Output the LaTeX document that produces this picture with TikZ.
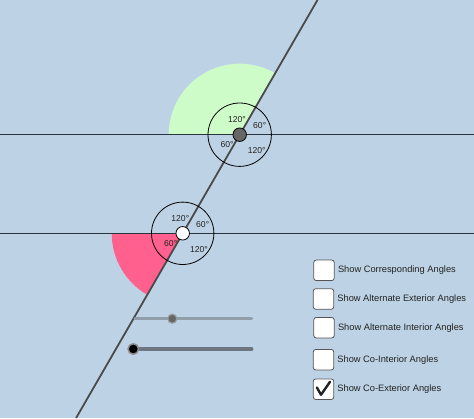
\documentclass[tikz,border=0pt]{standalone}
\usepackage{fontspec}
\setmainfont{Liberation Sans}
\definecolor{bg}{RGB}{189,211,229}
\definecolor{sectgreen}{RGB}{206,252,200}
\definecolor{sectpink}{RGB}{255,96,142}
\definecolor{transv}{RGB}{74,74,74}
\definecolor{hline}{RGB}{40,52,62}
\definecolor{txt}{RGB}{34,34,34}
\definecolor{sliderA}{RGB}{145,157,168}
\definecolor{sliderB}{RGB}{108,118,128}
\definecolor{boxline}{RGB}{85,85,85}
\begin{document}
\begin{tikzpicture}[x=1pt,y=1pt,
  anglab/.style={font=\fontsize{8.6}{9}\selectfont, text=txt, inner sep=0pt},
  cbox/.style={draw=boxline, fill=white, line width=0.8pt, rounded corners=2.5pt, minimum size=20.5pt, inner sep=0pt},
  cboxlabel/.style={anchor=west, font=\fontsize{9.3}{10}\selectfont, text=txt, inner sep=0pt},
  ptdark/.style={circle, draw=black, fill=black!60, line width=0.8pt, minimum size=13.5pt, inner sep=0pt},
  ptlight/.style={circle, draw=black, fill=white, line width=0.8pt, minimum size=13.5pt, inner sep=0pt},
  knobA/.style={circle, draw=black!40, fill=black!60, line width=1.2pt, minimum size=9pt, inner sep=0pt},
  knobB/.style={circle, draw=black!45, fill=black, line width=1.5pt, minimum size=10.5pt, inner sep=0pt}]
\fill[bg] (0,0) rectangle (474,418);
\useasboundingbox (0,0) rectangle (474,418);
\coordinate (T) at (239.7,283.3);
\coordinate (B) at (182.7,184.7);
\coordinate (tt) at (317.5,418);
\coordinate (tb) at (76.1,0);
\coordinate (h1l) at (0,283.3);
\coordinate (h1r) at (474,283.3);
\coordinate (h2l) at (0,184.7);
\coordinate (h2r) at (474,184.7);
% sectors
\fill[sectgreen] (T) -- ++(60:71) arc[start angle=60,end angle=180,radius=71] -- cycle;
\fill[sectpink] (B) -- ++(180:71) arc[start angle=180,end angle=240,radius=71] -- cycle;
% lines
\draw[hline, line width=0.9pt] (h1l) -- (h1r);
\draw[hline, line width=0.9pt] (h2l) -- (h2r);
\draw[transv, line width=1.8pt] (tb) -- (tt);
% circles
\draw[black, line width=0.8pt] (T) circle[radius=31.7];
\draw[black, line width=0.8pt] (B) circle[radius=31.2];
% angle labels top
\node[anglab] (ta1) at (237,298.7) {120°};
\node[anglab] (ta2) at (259.7,292.3) {60°};
\node[anglab] (ta3) at (227,273.3) {60°};
\node[anglab] (ta4) at (256.7,267.3) {120°};
% angle labels bottom
\node[anglab] (ba1) at (180.3,199.3) {120°};
\node[anglab] (ba2) at (202.7,193.7) {60°};
\node[anglab] (ba3) at (170.7,174.7) {60°};
\node[anglab] (ba4) at (199,168.7) {120°};
% points
\node[ptdark] (PT) at (T) {};
\node[ptlight] (PB) at (B) {};
% sliders
\coordinate (s1a) at (135,99.3);
\coordinate (s1b) at (251.7,99.3);
\coordinate (s2a) at (133.3,69);
\coordinate (s2b) at (251.7,69);
\draw[sliderA, line width=3pt, line cap=round] (s1a) -- (s1b);
\draw[sliderB, line width=3.5pt, line cap=round] (s2a) -- (s2b);
\node[knobA] (k1) at (172.3,99.3) {};
\node[knobB] (k2) at (133.3,69) {};
% checkboxes
\node[cbox] (c1) at (324,147.7) {};
\node[cbox] (c2) at (323.5,119) {};
\node[cbox] (c3) at (324,90.3) {};
\node[cbox] (c4) at (323.5,58.3) {};
\node[cbox] (c5) at (323.5,28.8) {};
\node[cboxlabel] (l1) at (337.8,147.7) {Show Corresponding Angles};
\node[cboxlabel] (l2) at (337.2,119) {Show Alternate Exterior Angles};
\node[cboxlabel] (l3) at (337.8,90.3) {Show Alternate Interior Angles};
\node[cboxlabel] (l4) at (337.2,58.3) {Show Co-Interior Angles};
\node[cboxlabel] (l5) at (337.2,28.8) {Show Co-Exterior Angles};
\draw[txt, line width=2.4pt, line cap=round, line join=round] (316.9,30.5) -- (321,23.2) -- (330,36.2);
\end{tikzpicture}
\end{document}
